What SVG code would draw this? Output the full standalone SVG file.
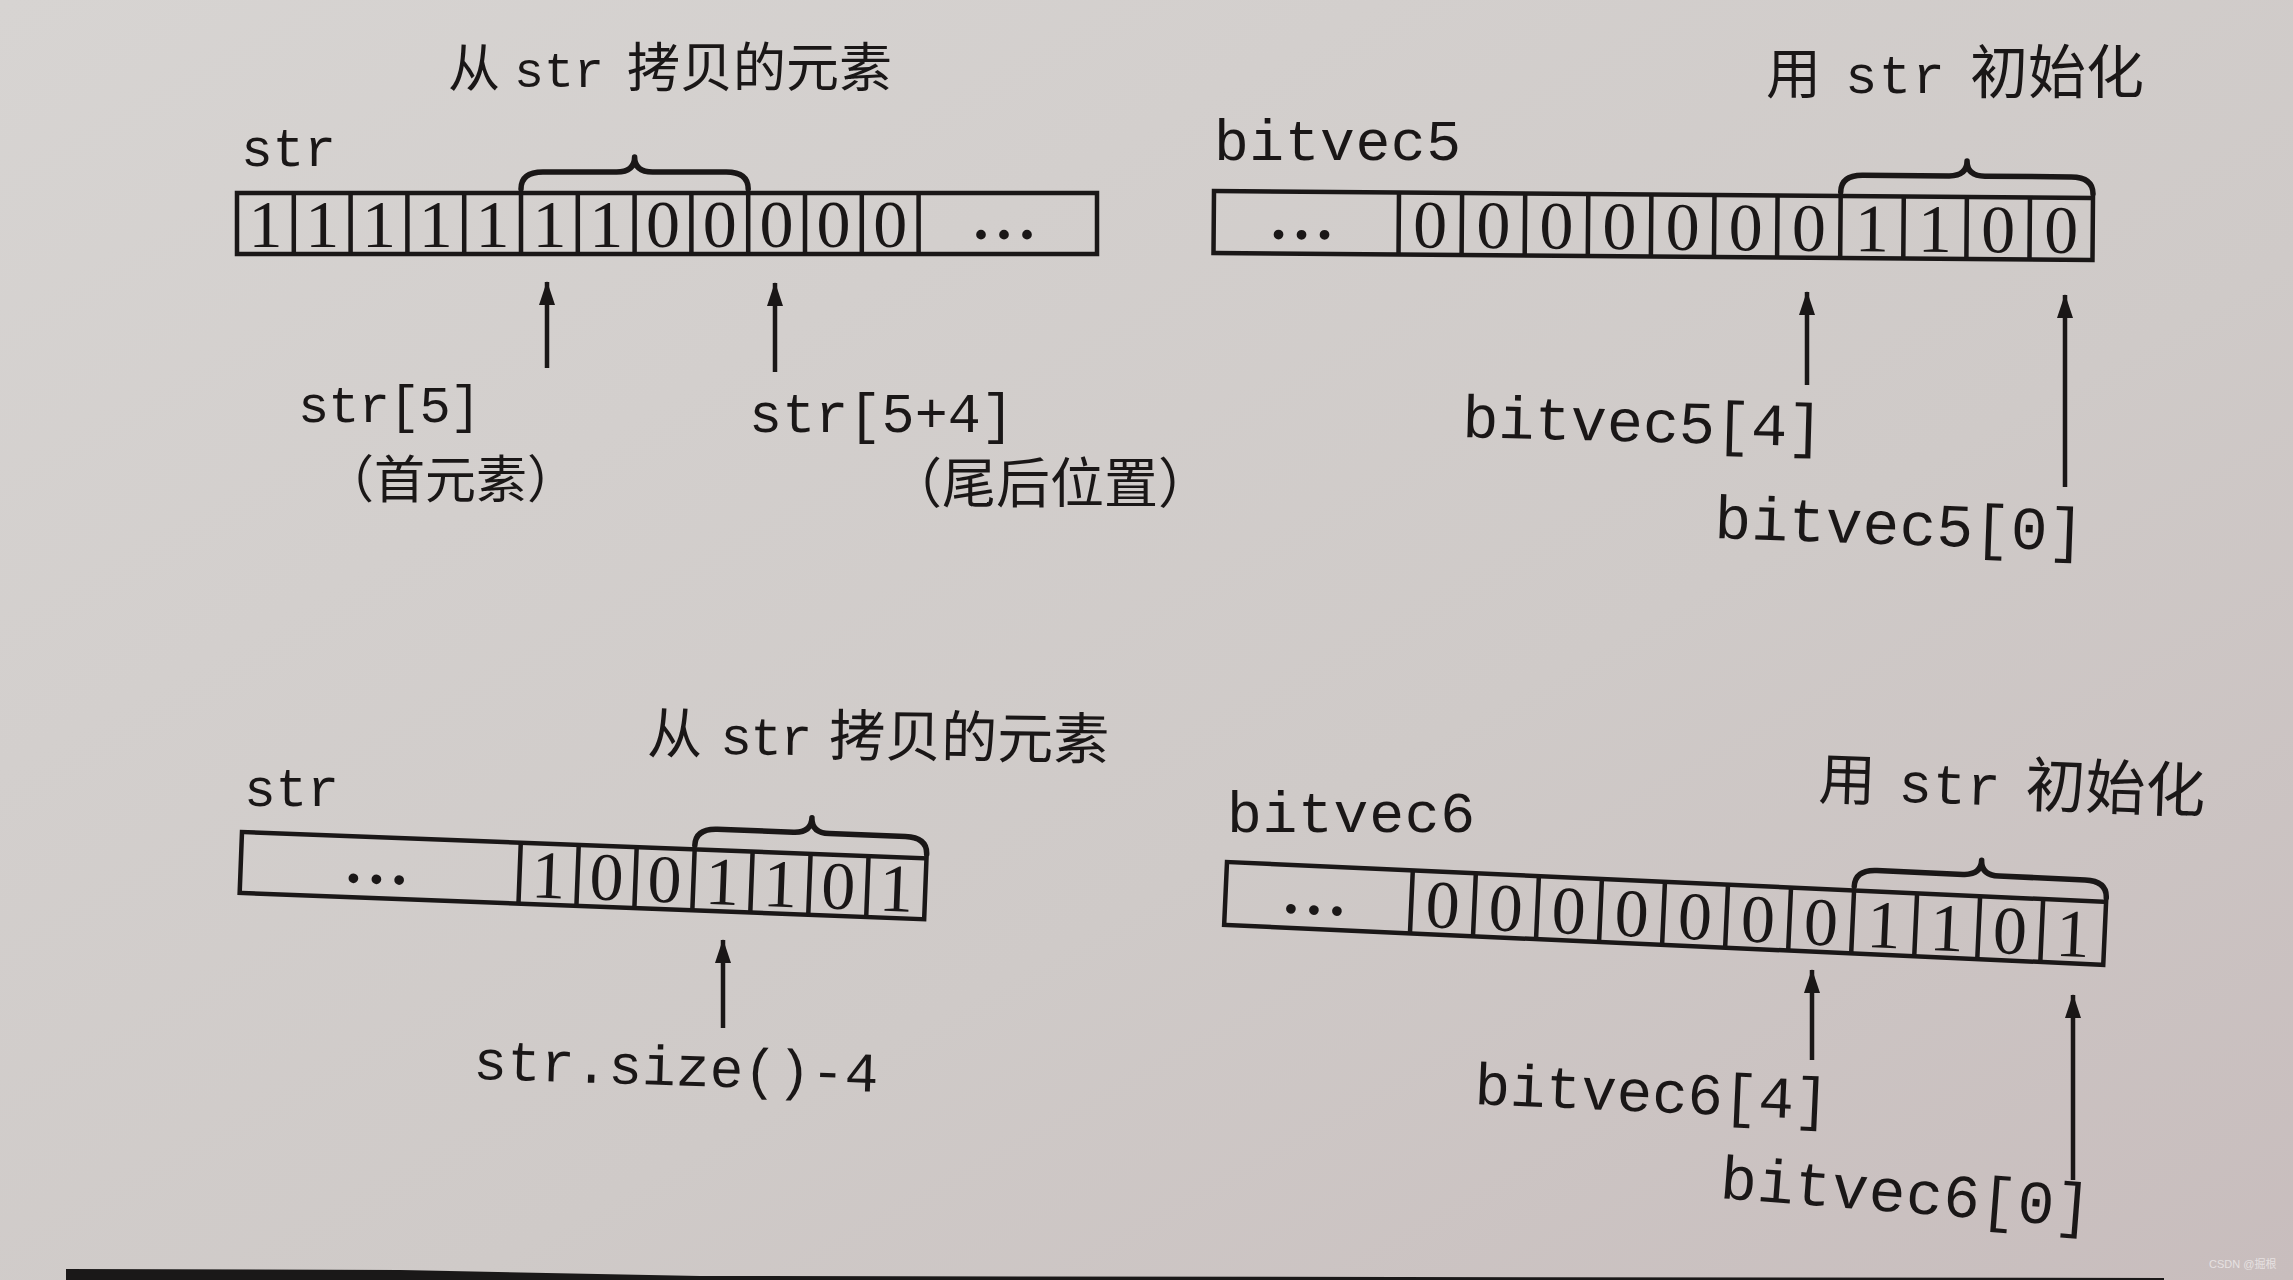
<svg xmlns="http://www.w3.org/2000/svg" width="2293" height="1280" viewBox="0 0 2293 1280">
<defs>
<linearGradient id="paper" x1="0" y1="0" x2="1" y2="1">
<stop offset="0" stop-color="#d7d4d2"/>
<stop offset="0.6" stop-color="#cfcac8"/>
<stop offset="1" stop-color="#c8bdbd"/>
</linearGradient>
<marker id="ah" markerUnits="userSpaceOnUse" markerWidth="24" markerHeight="16" viewBox="0 0 24 16" refX="23" refY="8" orient="auto">
<path d="M0,0 L24,8 L0,16 Z" fill="#1a1717"/>
</marker>
</defs>
<style>
.cell{fill:none;stroke:#1a1717;stroke-width:4.5}
.dg{font-family:"Liberation Serif",serif;font-size:68px;fill:#1a1717;text-anchor:middle}
.dots{font-family:"Liberation Serif",serif;font-size:60px;font-weight:bold;fill:#1a1717;text-anchor:middle;letter-spacing:8px}
.mono{font-family:"Liberation Mono",monospace;fill:#1a1717}
.cjk{font-family:"Noto Sans CJK SC",sans-serif;fill:#1a1717}
.brace{fill:none;stroke:#1a1717;stroke-width:5.5;stroke-linejoin:round;stroke-linecap:round}
.arr{fill:none;stroke:#1a1717;stroke-width:4.5;marker-end:url(#ah)}
</style>
<rect x="0" y="0" width="2293" height="1280" fill="url(#paper)"/>

<!-- Titles -->
<g id="title-copy-1">
<text class="cjk" x="448" y="87" font-size="52">从</text>
<text class="mono" x="514" y="87" font-size="50" textLength="90">str</text>
<text class="cjk" x="627" y="87" font-size="53">拷贝的元素</text>
</g>
<g id="title-init-1">
<text class="cjk" x="1766" y="93" font-size="55">用</text>
<text class="mono" x="1845" y="93" font-size="54" textLength="100">str</text>
<text class="cjk" x="1970" y="93" font-size="58">初始化</text>
</g>
<g id="title-copy-2" transform="rotate(0.8 647 753)">
<text class="cjk" x="647" y="753" font-size="55">从</text>
<text class="mono" x="720" y="753" font-size="53" textLength="92">str</text>
<text class="cjk" x="829" y="753" font-size="56">拷贝的元素</text>
</g>
<g id="title-init-2" transform="rotate(2 1818 799)">
<text class="cjk" x="1818" y="799" font-size="57">用</text>
<text class="mono" x="1898" y="799" font-size="56" textLength="102">str</text>
<text class="cjk" x="2025" y="799" font-size="60">初始化</text>
</g>

<!-- Row 1 left: str -->
<g id="label-str-1"><text class="mono" x="241" y="166" font-size="53" textLength="95">str</text></g>
<g id="array-str-1" transform="translate(237 193)">
<rect class="cell" x="0" y="0" width="860" height="61"/>
<path class="cell" d="M56.8,0V61M113.6,0V61M170.4,0V61M227.2,0V61M284,0V61M340.8,0V61M397.6,0V61M454.4,0V61M511.2,0V61M568,0V61M624.8,0V61M681.6,0V61"/>
<text class="dg" y="54"><tspan x="28.4">1</tspan><tspan x="85.2">1</tspan><tspan x="142">1</tspan><tspan x="198.8">1</tspan><tspan x="255.6">1</tspan><tspan x="312.4">1</tspan><tspan x="369.2">1</tspan><tspan x="426">0</tspan><tspan x="482.8">0</tspan><tspan x="539.6">0</tspan><tspan x="596.4">0</tspan><tspan x="653.2">0</tspan></text>
<text class="dots" x="771" y="46">...</text>
<path class="brace" d="M284,-4 Q284,-21 306,-21 L379.6,-21 Q397.6,-21 397.6,-36 Q397.6,-21 415.6,-21 L489.2,-21 Q511.2,-21 511.2,-4"/>
</g>
<g id="label-str5"><text class="mono" x="298" y="422" font-size="52" textLength="183">str[5]</text></g>
<g id="label-first"><text class="cjk" x="323" y="498" font-size="51">（首元素）</text></g>
<g id="label-str54"><text class="mono" x="749" y="432" font-size="55" textLength="265">str[5+4]</text></g>
<g id="label-offend"><text class="cjk" x="888" y="503" font-size="54">（尾后位置）</text></g>

<!-- Row 1 right: bitvec5 -->
<g id="label-bitvec5"><text class="mono" x="1214" y="160" font-size="58" textLength="247">bitvec5</text></g>
<g id="array-bitvec5" transform="translate(1214 191) rotate(0.46)">
<rect class="cell" x="0" y="0" width="879" height="62"/>
<path class="cell" d="M185,0V62M248.1,0V62M311.2,0V62M374.3,0V62M437.4,0V62M500.5,0V62M563.6,0V62M626.7,0V62M689.8,0V62M752.9,0V62M816,0V62"/>
<text class="dots" x="92" y="47">...</text>
<text class="dg" y="55" font-size="70"><tspan x="216.5">0</tspan><tspan x="279.6">0</tspan><tspan x="342.7">0</tspan><tspan x="405.8">0</tspan><tspan x="468.9">0</tspan><tspan x="532">0</tspan><tspan x="595.1">0</tspan><tspan x="658.2">1</tspan><tspan x="721.3">1</tspan><tspan x="784.4">0</tspan><tspan x="847.5">0</tspan></text>
<path class="brace" d="M626.7,-4 Q626.7,-21 648.7,-21 L734.8,-21 Q752.8,-21 752.8,-36 Q752.8,-21 770.8,-21 L857,-21 Q879,-21 879,-4"/>
</g>
<g id="label-bitvec5-4" transform="rotate(1.5 1462 437)"><text class="mono" x="1462" y="437" font-size="60" textLength="361">bitvec5[4]</text></g>
<g id="label-bitvec5-0" transform="rotate(2 1714 538)"><text class="mono" x="1714" y="538" font-size="61" textLength="370">bitvec5[0]</text></g>

<!-- Row 2 left: str -->
<g id="label-str-2"><text class="mono" x="244" y="806" font-size="53" textLength="95">str</text></g>
<g id="array-str-2" transform="translate(242 832) rotate(2.2)">
<rect class="cell" x="0" y="0" width="685" height="61"/>
<path class="cell" d="M279,0V61M337,0V61M395,0V61M453,0V61M511,0V61M569,0V61M627,0V61"/>
<text class="dots" x="140" y="46">...</text>
<text class="dg" y="54"><tspan x="308">1</tspan><tspan x="366">0</tspan><tspan x="424">0</tspan><tspan x="482">1</tspan><tspan x="540">1</tspan><tspan x="598">0</tspan><tspan x="656">1</tspan></text>
<path class="brace" d="M453,-4 Q453,-21 475,-21 L551,-21 Q569,-21 569,-36 Q569,-21 587,-21 L663,-21 Q685,-21 685,-4"/>
</g>
<g id="label-size4" transform="rotate(1.8 473 1079)"><text class="mono" x="473" y="1079" font-size="56" textLength="405">str.size()-4</text></g>

<!-- Row 2 right: bitvec6 -->
<g id="label-bitvec6"><text class="mono" x="1227" y="832" font-size="58" textLength="248">bitvec6</text></g>
<g id="array-bitvec6" transform="translate(1227 862) rotate(2.6)">
<rect class="cell" x="0" y="0" width="880" height="63"/>
<path class="cell" d="M186,0V63M249.1,0V63M312.2,0V63M375.3,0V63M438.4,0V63M501.5,0V63M564.6,0V63M627.7,0V63M690.8,0V63M753.9,0V63M817,0V63"/>
<text class="dots" x="93" y="48">...</text>
<text class="dg" y="56" font-size="70"><tspan x="217.5">0</tspan><tspan x="280.6">0</tspan><tspan x="343.7">0</tspan><tspan x="406.8">0</tspan><tspan x="469.9">0</tspan><tspan x="533">0</tspan><tspan x="596.1">0</tspan><tspan x="659.2">1</tspan><tspan x="722.3">1</tspan><tspan x="785.4">0</tspan><tspan x="848.5">1</tspan></text>
<path class="brace" d="M627.7,-4 Q627.7,-21 649.7,-21 L735.8,-21 Q753.8,-21 753.8,-36 Q753.8,-21 771.8,-21 L858,-21 Q880,-21 880,-4"/>
</g>
<g id="label-bitvec6-4" transform="rotate(2.5 1474 1104)"><text class="mono" x="1474" y="1104" font-size="59" textLength="355">bitvec6[4]</text></g>
<g id="label-bitvec6-0" transform="rotate(4.5 1719 1198)"><text class="mono" x="1719" y="1198" font-size="61" textLength="372">bitvec6[0]</text></g>

<!-- Connectors -->
<g id="connectors">
<line class="arr" x1="547" y1="368" x2="547" y2="282"/>
<line class="arr" x1="775" y1="372" x2="775" y2="283"/>
<line class="arr" x1="1807" y1="385" x2="1807" y2="292"/>
<line class="arr" x1="2065" y1="487" x2="2065" y2="295"/>
<line class="arr" x1="723" y1="1028" x2="723" y2="940"/>
<line class="arr" x1="1812" y1="1060" x2="1812" y2="970"/>
<line class="arr" x1="2073" y1="1180" x2="2073" y2="995"/>
</g>

<polygon id="page-edge" points="66,1269 400,1270 700,1276 2164,1278 2164,1280 66,1280" fill="#1a1818"/>
<text x="2209" y="1268" font-family="Liberation Sans, Noto Sans CJK SC, sans-serif" font-size="11" fill="#ece8e8" opacity="0.85">CSDN @掘根</text>
</svg>
